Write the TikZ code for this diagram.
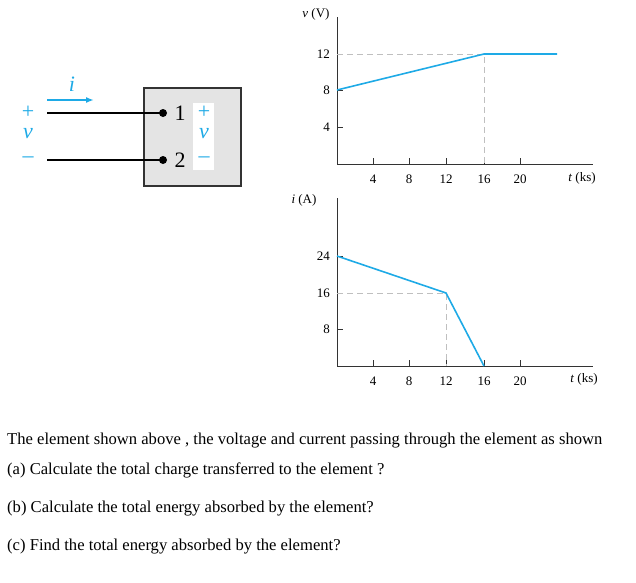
\documentclass[tikz,border=0pt]{standalone}
\usepackage{fontspec}
\setmainfont{Liberation Serif}
\usetikzlibrary{arrows.meta}
\definecolor{cb}{RGB}{30,170,230}
\definecolor{gbox}{RGB}{228,228,228}
\begin{document}
\begin{tikzpicture}[x=1pt,y=-1pt,
  ax/.style={line width=1pt,black!80},
  curve/.style={cb,line width=1.6pt},
  dsh/.style={gray!50,dash pattern=on 6pt off 4pt,line width=1pt},
  tk/.style={font=\fontsize{13}{15}\selectfont,inner sep=1pt},
  big/.style={font=\fontsize{22}{24}\selectfont,inner sep=0pt},
  txt/.style={font=\fontsize{16.6}{18}\selectfont,anchor=west,inner sep=0pt}]
\useasboundingbox (0,0) rectangle (636,582);
% circuit
\node[draw=black!80,line width=1.8pt,fill=gbox,minimum width=97pt,minimum height=98pt,anchor=north west] (box) at (143,87) {};
\fill[white] (193,103) rectangle (214,170);
\coordinate (a1) at (47,113); \coordinate (t1) at (163,113);
\coordinate (a2) at (47,160); \coordinate (t2) at (163,160);
\draw[line width=1.2pt] (a1)--(t1); \draw[line width=1.2pt] (a2)--(t2);
\fill (t1) circle (4pt); \fill (t2) circle (4pt);
\node[big] (n1) at (180,113) {1};
\node[big] (n2) at (180,160) {2};
\node[cb,big] (rp) at (204,112) {+};
\node[cb,big] (rv) at (204,134) {\textit{v}};
\node[cb,big] (rm) at (204,160) {--};
\node[cb,big] (lp) at (28,112) {+};
\node[cb,big] (lv) at (28,134) {\textit{v}};
\node[cb,big] (lm) at (28,160) {--};
\coordinate (ia) at (47,100); \coordinate (ib) at (94,100);
\draw[cb,line width=1.6pt,-{Latex[length=8pt,width=6pt]}] (ia)--(ib);
\node[cb,big] (il) at (72,84) {\textit{i}};
% top graph
\coordinate (o1) at (337,164);
\draw[ax] (337,17)--(o1)--(593,164);
\foreach \x/\l in {373/4,409/8,446/12,484/16,520/20}{\draw[ax] (\x,164)--(\x,158); \node[tk] at (\x,179) {\l};}
\foreach \y/\l in {54/12,90/8,127/4}{\draw[ax] (337,\y)--(343,\y); \node[tk,anchor=east] at (331,\y) {\l};}
\draw[dsh] (337,54)--(484,54)--(484,164);
\draw[curve] (337,90)--(484,54)--(557,54);
\node[tk] at (316,14) {\textit{v} (V)};
\node[tk] at (582,178) {\textit{t} (ks)};
% bottom graph
\coordinate (o2) at (337,366);
\draw[ax] (337,198)--(o2)--(593,366);
\foreach \x/\l in {373/4,409/8,446/12,484/16,520/20}{\draw[ax] (\x,366)--(\x,360); \node[tk] at (\x,381) {\l};}
\foreach \y/\l in {256/24,293/16,329/8}{\draw[ax] (337,\y)--(343,\y); \node[tk,anchor=east] at (331,\y) {\l};}
\draw[dsh] (337,293)--(446,293)--(446,366);
\draw[curve] (337,256)--(446,293)--(484,366);
\node[tk] at (304,200) {\textit{i} (A)};
\node[tk] at (584,379) {\textit{t} (ks)};
% text
\node[txt] at (7,441) {The element shown above , the voltage and current passing through the element as shown};
\node[txt] at (7,470) {(a) Calculate the total charge transferred to the element ?};
\node[txt] at (7,509) {(b) Calculate the total energy absorbed by the element?};
\node[txt] at (7,547) {(c) Find the total energy absorbed by the element?};
\end{tikzpicture}
\end{document}
